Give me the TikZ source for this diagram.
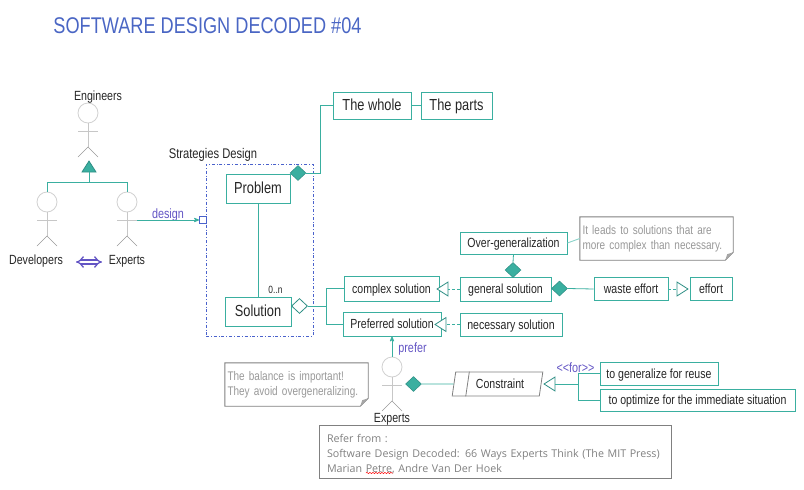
\documentclass[tikz,border=0pt]{standalone}
\usepackage{fontspec}
\setmainfont[FakeStretch=0.8]{Liberation Sans}
\newfontfamily\referfont{Open Sans}
\usetikzlibrary{shapes,shapes.geometric,arrows,calc,positioning,decorations.pathmorphing}
\definecolor{tealline}{HTML}{3AAFA0}
\definecolor{tealdark}{HTML}{2F8F85}
\definecolor{tealpale}{HTML}{8AD3C9}
\definecolor{purpletext}{HTML}{6355C4}
\definecolor{blueline}{HTML}{4A62CC}
\definecolor{grayline}{HTML}{808080}
\definecolor{graytext}{HTML}{989898}
\definecolor{titleblue}{HTML}{4A66C4}
\tikzset{
  txt/.style={inner sep=0pt,text=black!85,text height=10pt,text depth=0pt,font=\fontsize{13.3}{15}\selectfont},
  lbl/.style={inner sep=0pt,text=purpletext,text height=10pt,text depth=1pt,font=\fontsize{13.5}{15}\selectfont},
  cls/.style={draw=tealline,line width=.8pt,inner sep=0pt,text=black!85,text height=11.5pt,text depth=1.5pt,font=\fontsize{16}{18}\selectfont},
  smallcls/.style={cls,text height=10pt,text depth=1pt,font=\fontsize{13.2}{15}\selectfont},
  filldiam/.style={diamond,draw=tealdark,line width=.5pt,fill=tealline,inner sep=0pt,minimum width=16pt,minimum height=15pt},
  opendiam/.style={filldiam,draw=tealdark,line width=.8pt,fill=white},
  opentri/.style={isosceles triangle,isosceles triangle stretches,draw=tealdark,line width=.8pt,fill=white,
    inner sep=0pt,minimum width=14pt,minimum height=11pt,anchor=apex},
  notebox/.style={inner sep=0pt,text=graytext,align=left,font=\fontsize{12.5}{15}\selectfont},
  notefold/.style={draw=grayline,line width=.9pt},
  rel/.style={draw=tealline,line width=.8pt},
  softrel/.style={draw=tealpale,line width=.9pt},
  dep/.style={draw=tealline,line width=.7pt,densely dashed},
  actor/.pic={
    \node[circle,draw=black!18,line width=.8pt,minimum size=20pt,inner sep=0pt] (-head) at (0,0) {};
    \draw[black!22,line width=.9pt] (0,10) -- (0,34) (-10,18) -- (10,18);
    \draw[black!40,line width=.6pt] (-10,44) -- (0,34) -- (10,44);
    \coordinate (-hand) at (10,18);
  }
}
\newcommand{\foldnote}[1]{
  \draw[notefold] (#1.south west) -- (#1.north west) -- (#1.north east) -- ([yshift=8pt]#1.south east)
    -- ([xshift=-8pt]#1.south east) -- cycle;
  \fill[grayline!70] ([yshift=8pt]#1.south east) -- ([xshift=-8pt]#1.south east) -- ([xshift=-6pt,yshift=6pt]#1.south east) -- cycle;
}
\begin{document}
\begin{tikzpicture}[>=stealth', x=1pt, y=-1pt]
    \useasboundingbox (0,0) rectangle (804,490);
    \node [inner sep=0pt, text=titleblue, font=\fontsize{22.7}{26}\selectfont] (title) at (207.5,26) {SOFTWARE DESIGN DECODED \#04};

    % actors
    \pic (eng) at (88,113) {actor};
    \pic (dev) at (47,202) {actor};
    \pic (exp) at (127,202) {actor};
    \pic (pref) at (392,367) {actor};
    \node [txt] (englbl) at (98,95) {Engineers};
    \node [txt] (devlbl) at (36,259) {Developers};
    \node [txt] (explbl) at (127,259) {Experts};
    \node [txt] (preflbl) at (392,417) {Experts};

    % design box
    \node [draw=blueline, line width=.7pt, dash dot, minimum width=107pt, minimum height=172pt, inner sep=0pt] (strat) at (259.5,250) {};
    \node [txt, font=\fontsize{14}{16}\selectfont] (stratlbl) at (213,153) {Strategies Design};
    \node [draw=blueline, line width=.8pt, minimum size=7pt, inner sep=0pt, fill=white] (port) at (203,220) {};
    \node [lbl] (designlbl) at (168,214) {design};

    \node [cls, minimum width=64pt, minimum height=29pt] (prob) at (258,188.5) {Problem};
    \node [cls, minimum width=66pt, minimum height=29pt] (sol) at (258,311.5) {Solution};
    \node [cls, minimum width=78pt, minimum height=27pt] (whole) at (372,105.5) {The whole};
    \node [cls, minimum width=71pt, minimum height=27pt] [right of=whole, node distance=84.5pt] (parts) {The parts};
    \node [txt, text height=7pt, text depth=1pt, font=\fontsize{10.5}{12}\selectfont] (mult) at (275.5,290) {0..n};

    \node [smallcls, minimum width=95pt, minimum height=25pt] (complex) at (391.5,288.5) {complex solution};
    \node [smallcls, minimum width=98pt, minimum height=24pt] (preferred) at (392,324) {Preferred solution};
    \node [smallcls, minimum width=91pt, minimum height=24pt] (general) at (505.5,289) {general solution};
    \node [smallcls, minimum width=107pt, minimum height=22pt] (over) at (513.5,243) {Over-generalization};
    \node [smallcls, minimum width=102pt, minimum height=23pt] (necessary) at (511,324.5) {necessary solution};
    \node [smallcls, minimum width=74pt, minimum height=23pt] (waste) at (631,289) {waste effort};
    \node [smallcls, minimum width=42pt, minimum height=23pt] (effort) at (711,289) {effort};

    \node [trapezium, trapezium left angle=77, trapezium right angle=103, trapezium stretches, draw=grayline, line width=.8pt,
      inner sep=0pt, minimum width=91pt, minimum height=24pt, text=black!85, font=\fontsize{13.2}{15}\selectfont] (con) at (497.5,384) {\hspace*{5pt}Constraint};
    \node [smallcls, minimum width=118pt, minimum height=23pt] (reuse) at (659,373.5) {to generalize for reuse};
    \node [smallcls, minimum width=195pt, minimum height=22pt] (situation) at (697.5,400) {to optimize for the immediate situation};
    \node [lbl] (forlbl) at (575.5,368) {{<}{<}for{>}{>}};
    \node [lbl] (preferlbl) at (412.5,348) {prefer};

    % notes
    \node [notebox, minimum width=153pt, minimum height=43pt, text width=148pt] (noteover) at (656.5,238.5)
      {It leads to solutions that are\\more complex than necessary.};
    \foldnote{noteover}
    \node [notebox, minimum width=143pt, minimum height=43pt, text width=138pt] (notebal) at (296.5,384.5)
      {The balance is important!\\They avoid overgeneralizing.};
    \foldnote{notebal}
    \node [draw=grayline, line width=.9pt, inner sep=0pt, minimum width=352pt, minimum height=53pt, text width=336pt, align=left, text=grayline,
      font=\referfont\fontsize{10.7}{15}\selectfont] (refer) at (495,451.5)
      {\rule{0pt}{14pt}Refer from :\\Software Design Decoded: 66 Ways Experts Think (The MIT Press)\\Marian Petre, Andre Van Der Hoek};
    \draw [red, line width=.5pt, decorate, decoration={snake,amplitude=.6pt,segment length=3pt}] (366,473) -- (393,473);

    % end markers
    \node [filldiam] (dprob) at (298,173) {};
    \node [opendiam] (dsol) at (299.5,306) {};
    \node [filldiam] (dover) at (513,270) {};
    \node [filldiam] (dgen) at (559.5,288.5) {};
    \node [filldiam] (dpref) at (413.5,384) {};
    \node [opentri, fill=tealline, shape border rotate=90] (teng) at (89,160) {};
    \node [opentri, shape border rotate=180] (tcomplex) at (436,289) {};
    \node [opentri, shape border rotate=180] (tpreferred) at (434,324.5) {};
    \node [opentri] (teffort) at (689,289) {};
    \node [opentri, shape border rotate=180] (tcon) at (543,384) {};

    % connectors
    \draw [rel] (teng.lower side) -- ++(0,10) coordinate (fork) -| (dev-head.north);
    \draw [rel] (fork) -| (exp-head.north);
    \draw [rel, ->] (exp-hand) -- (port.west);
    \coordinate (dblL) at (76,262);
    \coordinate (dblR) at (102,262);
    \draw [purpletext, line width=1.3pt, double, double distance=2.6pt, implies-implies] (dblL) -- (dblR);
    \draw [rel] (dprob.east) -- ++(14,0) |- (whole.west);
    \draw [rel] (whole.east) -- (parts.west);
    \draw [rel] (prob.south) -- (sol.north);
    \draw [rel] (dsol.east) -- ++(18.5,0) coordinate (solfork) |- (complex.west);
    \draw [rel] (solfork) |- (preferred.west);
    \path (general.west) edge [dep] (tcomplex.lower side)
          (necessary.west) edge [dep] (tpreferred.lower side)
          (waste.east) edge [dep] (teffort.lower side)
          (over.south) edge [rel] (dover.north)
          (dgen.east) edge [rel] (waste.west)
          (over.east) edge [softrel] (noteover.west)
          (dpref.east) edge [rel] (con.west);
    \draw [grayline, line width=.8pt] ([xshift=14pt]con.bottom left corner) -- ([xshift=14pt]con.top left corner);
    \draw [rel, ->] (pref-head.north) -- (preferred.south);
    \draw [rel] (tcon.lower side) -- ++(23,0) coordinate (confork) |- (reuse.west);
    \draw [rel] (confork) |- (situation.west);
\end{tikzpicture}
\end{document}
